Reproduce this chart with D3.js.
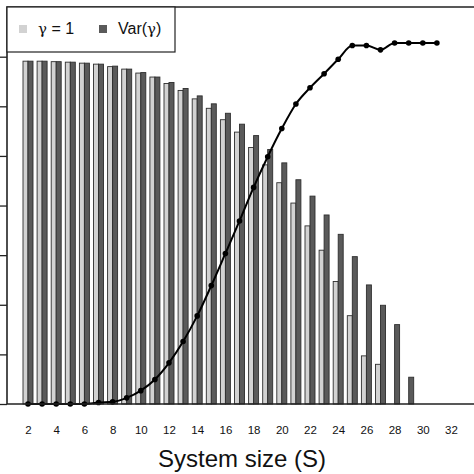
<!DOCTYPE html>
<html>
<head>
<meta charset="utf-8">
<script src="https://cdn.jsdelivr.net/npm/d3@7"></script>
<style>
  html, body { margin: 0; padding: 0; background: #fff; }
  svg { display: block; font-family: "Liberation Sans", Arial, Helvetica, sans-serif; }
</style>
</head>
<body>
<svg id="chart" width="474" height="474"></svg>
<script>
// ---- data ----
const sizes = d3.range(2, 33);            // system size S = 2..32
const gammaOne = [0.691,0.691,0.690,0.689,0.687,0.685,0.680,0.675,0.667,0.659,0.646,0.632,0.615,0.596,0.573,0.548,0.517,0.482,0.446,0.405,0.359,0.310,0.247,0.178,0.097,0.080,0,0,0,0,0];
const varGamma = [0.691,0.691,0.690,0.689,0.687,0.685,0.681,0.675,0.668,0.659,0.648,0.636,0.621,0.605,0.586,0.564,0.541,0.513,0.486,0.452,0.419,0.381,0.342,0.297,0.240,0.199,0.160,0.054,0,0,0];
const lineS = d3.range(2, 32);            // S = 2..31
const lineVals = [0,0,0,0,0,0.004,0.006,0.017,0.037,0.068,0.114,0.173,0.244,0.328,0.417,0.507,0.600,0.685,0.763,0.831,0.876,0.915,0.955,0.993,0.993,0.981,1,1,1,1];
const xTicks = d3.range(2, 33, 2);
const yTicks = [0,0.1,0.2,0.3,0.4,0.5,0.6,0.7];
// legend labels split into parts; "g" marks the gamma glyph
const legendLabels = [[["γ", true], [" = 1", false]], [["Var(", false], ["γ", true], [")", false]]];

// ---- layout ----
const svg = d3.select("#chart");
const mLeft = 7, mRight = 474, mTop = 7, mBottom = 404;
const x = d3.scaleLinear().domain([2, 32]).range([28, 451]);
const y = d3.scaleLinear().domain([0, 0.7]).range([mBottom, 56.7]);
const y2 = d3.scaleLinear().domain([0, 1]).range([mBottom, 43]);
const bw = 5;
const lightFill = "#d2d2d2", darkFill = "#5a5a5a", barStroke = "#2e2e2e";

svg.append("rect").attr("width", 474).attr("height", 474).attr("fill", "#fff");

// bars
const g = svg.append("g");
g.selectAll("rect.light").data(sizes.map((s, i) => ({s, v: gammaOne[i]})).filter(d => d.v > 0))
  .join("rect").attr("class", "light")
  .attr("x", d => x(d.s) - bw).attr("width", bw)
  .attr("y", d => y(d.v)).attr("height", d => y(0) - y(d.v))
  .attr("fill", lightFill).attr("stroke", barStroke).attr("stroke-width", 0.9);
g.selectAll("rect.dark").data(sizes.map((s, i) => ({s, v: varGamma[i]})).filter(d => d.v > 0))
  .join("rect").attr("class", "dark")
  .attr("x", d => x(d.s)).attr("width", bw)
  .attr("y", d => y(d.v)).attr("height", d => y(0) - y(d.v))
  .attr("fill", darkFill).attr("stroke", barStroke).attr("stroke-width", 0.9);

// line with points
const pts = lineS.map((s, i) => ({s, v: lineVals[i]}));
svg.append("path").datum(pts)
  .attr("d", d3.line().x(d => x(d.s)).y(d => y2(d.v)).curve(d3.curveMonotoneX))
  .attr("fill", "none").attr("stroke", "#000").attr("stroke-width", 2);
svg.selectAll("circle.pt").data(pts).join("circle").attr("class", "pt")
  .attr("cx", d => x(d.s)).attr("cy", d => y2(d.v)).attr("r", 2.8).attr("fill", "#000");

// frame
svg.append("path")
  .attr("d", `M${mRight},${mTop}H${mLeft}V${mBottom}H${mRight}`)
  .attr("fill", "none").attr("stroke", "#222").attr("stroke-width", 1.6);

// left axis ticks (labels cropped)
const yAxis = d3.axisLeft(y).tickValues(yTicks).tickSize(8).tickFormat("");
const ya = svg.append("g").attr("transform", `translate(${mLeft},0)`).call(yAxis);
ya.select(".domain").remove();
ya.selectAll("line").attr("stroke", "#222").attr("stroke-width", 1.3);

// x axis labels
const xAxis = d3.axisBottom(x).tickValues(xTicks).tickSize(0).tickPadding(0);
const xa = svg.append("g").attr("transform", `translate(0,${mBottom})`).call(xAxis);
xa.select(".domain").remove();
xa.selectAll("text").attr("y", 27).attr("dy", null).attr("font-size", 11.5)
  .attr("font-family", "Liberation Sans, Arial, sans-serif").attr("fill", "#111")
  .attr("dominant-baseline", "middle");

svg.append("text").attr("x", 242).attr("y", 467).attr("text-anchor", "middle")
  .attr("font-size", 24).attr("fill", "#111").text("System size (S)");

// legend
svg.append("rect").attr("x", mLeft).attr("y", mTop).attr("width", 168).attr("height", 45)
  .attr("fill", "#fff").attr("stroke", "#222").attr("stroke-width", 1.2);
const lg = svg.append("g");
const legendX = [19, 99];
const legendFills = [lightFill, darkFill];
legendLabels.forEach((parts, i) => {
  lg.append("rect").attr("x", legendX[i]).attr("y", 25).attr("width", 8).attr("height", 8)
    .attr("fill", legendFills[i]);
  const t = lg.append("text").attr("x", legendX[i] + 19).attr("y", 34).attr("font-size", 16)
    .attr("fill", "#111");
  parts.forEach(([s, isG]) => {
    const ts = t.append("tspan").text(s);
    if (isG) ts.attr("font-family", "DejaVu Serif, serif").attr("font-size", 15);
  });
});
</script>
</body>
</html>
